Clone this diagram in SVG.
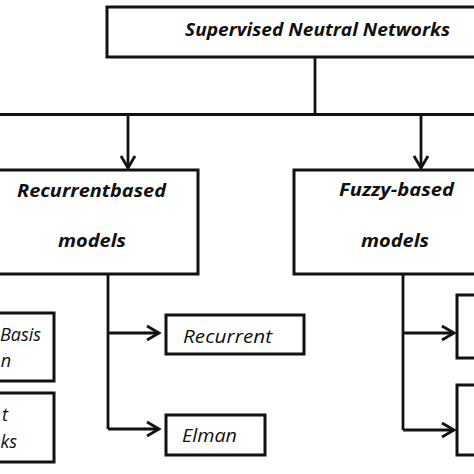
<svg xmlns="http://www.w3.org/2000/svg" width="474" height="474" viewBox="0 0 474 474">
<style>
.box{fill:#fff;stroke:#111;stroke-width:3}
.ln{fill:none;stroke:#111;stroke-width:2.8}
.t{font-family:"Open Sans","Liberation Sans",sans-serif;font-style:italic;font-size:18px;fill:#111}
.b{font-weight:bold}
</style>
<defs>
<marker id="arr" markerUnits="userSpaceOnUse" markerWidth="20" markerHeight="20" viewBox="-14 -10 16 20" refX="0" refY="0" orient="auto">
<path d="M-12,-7 L0,0 L-12,7" fill="none" stroke="#111" stroke-width="2.8"/>
</marker>
</defs>
<rect width="474" height="474" fill="#fff"/>
<g id="connectors">
<path class="ln" d="M315,57 V114"/>
<path class="ln" d="M-5,114.5 H480"/>
<path class="ln" d="M128,114 V168" marker-end="url(#arr)"/>
<path class="ln" d="M421,114 V168" marker-end="url(#arr)"/>
<path class="ln" d="M108,274 V429"/>
<path class="ln" d="M108,333 H159" marker-end="url(#arr)"/>
<path class="ln" d="M108,429 H159" marker-end="url(#arr)"/>
<path class="ln" d="M403,274 V430"/>
<path class="ln" d="M403,333 H454" marker-end="url(#arr)"/>
<path class="ln" d="M403,430 H454" marker-end="url(#arr)"/>
</g>
<g id="supervised">
<rect class="box" x="107" y="7" width="380" height="50"/>
<text class="t b" x="317.5" y="36" text-anchor="middle" textLength="265" lengthAdjust="spacingAndGlyphs">Supervised Neutral Networks</text>
</g>
<g id="recurrentbased">
<rect class="box" x="-10" y="170" width="208" height="104"/>
<text class="t b" x="91.5" y="197" text-anchor="middle" textLength="149" lengthAdjust="spacingAndGlyphs">Recurrentbased</text>
<text class="t b" x="92" y="247" text-anchor="middle" textLength="68" lengthAdjust="spacingAndGlyphs">models</text>
</g>
<g id="fuzzybased">
<rect class="box" x="294" y="170" width="200" height="104"/>
<text class="t b" x="396.5" y="196" text-anchor="middle" textLength="115" lengthAdjust="spacingAndGlyphs">Fuzzy-based</text>
<text class="t b" x="395" y="247" text-anchor="middle" textLength="68" lengthAdjust="spacingAndGlyphs">models</text>
</g>
<g id="basis">
<rect class="box" x="-10" y="313" width="64" height="68"/>
<text class="t" x="41" y="341" text-anchor="end">Basis</text>
<text class="t" x="11" y="367" text-anchor="end">n</text>
</g>
<g id="networks">
<rect class="box" x="-10" y="393" width="64" height="69"/>
<text class="t" x="8" y="421" text-anchor="end">t</text>
<text class="t" x="17" y="448" text-anchor="end">ks</text>
</g>
<g id="recurrent">
<rect class="box" x="166" y="315" width="138" height="39"/>
<text class="t" x="227.5" y="343" text-anchor="middle" textLength="89" lengthAdjust="spacingAndGlyphs">Recurrent</text>
</g>
<g id="elman">
<rect class="box" x="166" y="415" width="99" height="40"/>
<text class="t" x="209.5" y="442" text-anchor="middle" textLength="55" lengthAdjust="spacingAndGlyphs">Elman</text>
</g>
<g id="fuzzy1">
<rect class="box" x="457" y="295" width="40" height="63"/>
</g>
<g id="fuzzy2">
<rect class="box" x="457" y="385" width="40" height="70"/>
</g>
</svg>
